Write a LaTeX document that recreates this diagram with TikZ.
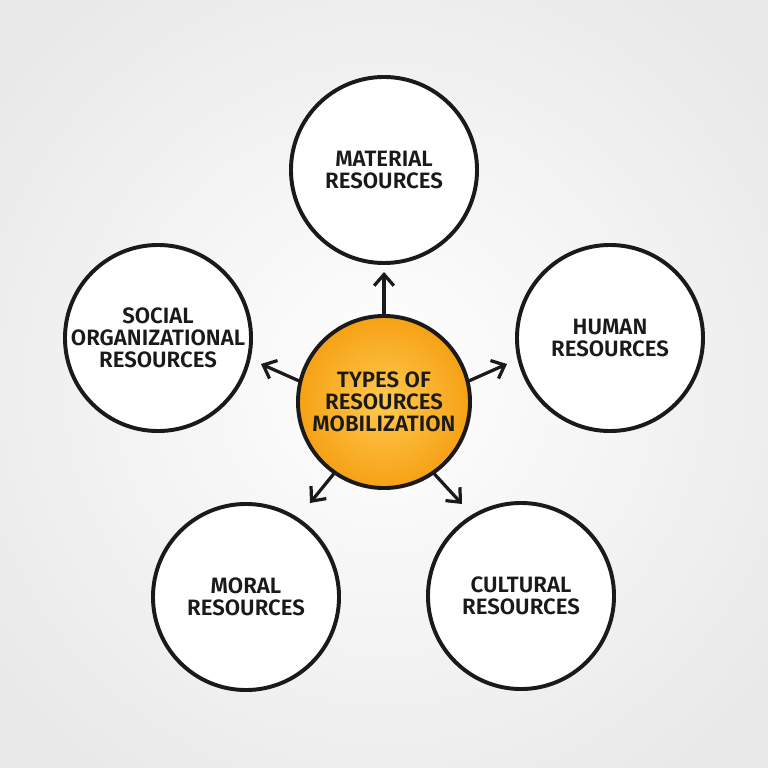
\documentclass[tikz,border=0pt]{standalone}
\usepackage{fontspec}
\setmainfont{Fira Sans}[UprightFont=* SemiBold]
\usetikzlibrary{arrows.meta}
\definecolor{ink}{HTML}{1A1A1A}
\definecolor{orgin}{HTML}{FFC94F}
\definecolor{orgout}{HTML}{F6A115}
\definecolor{bgout}{HTML}{E8E8E8}
\begin{document}
\begin{tikzpicture}[x=0.025cm,y=-0.025cm,
  lbl/.style={font=\fontsize{15.8}{15.8}\selectfont,text=ink,align=center},
  res/.style={circle,draw=ink,line width=2.8pt,fill=white,minimum size=4.65cm,inner sep=0pt,lbl},
  hub/.style={circle,draw=ink,line width=2.8pt,inner color=orgin,outer color=orgout,minimum size=4.3cm,inner sep=0pt,lbl},
  arr/.style={draw=ink,line width=2.3pt,line cap=round,-{Straight Barb[length=8pt,width=14pt,line width=2.3pt]}}
]
\useasboundingbox (0,0) rectangle (768,768);
\shade[inner color=white,outer color=bgout] (-120,-120) rectangle (888,888);

\node[hub] (c) at (384,402) {TYPES OF\\RESOURCES\\MOBILIZATION};
\node[res] (mat) at (384,170) {MATERIAL\\RESOURCES};
\node[res] (hum) at (610,338) {HUMAN\\RESOURCES};
\node[res] (soc) at (158,338) {SOCIAL\\ORGANIZATIONAL\\RESOURCES};
\node[res] (mor) at (246,597) {MORAL\\RESOURCES};
\node[res] (cul) at (521,596) {CULTURAL\\RESOURCES};

\coordinate (tu) at (384,272);
\coordinate (tr) at (507,364);
\coordinate (tl) at (261,364);
\coordinate (tdl) at (310,503);
\coordinate (tdr) at (462,504);

\draw[arr] (c.90) -- (tu);
\draw[arr] (c.14) -- (tr);
\draw[arr] (c.166) -- (tl);
\draw[arr] (c.235) -- (tdl);
\draw[arr] (c.305) -- (tdr);
\end{tikzpicture}
\end{document}
